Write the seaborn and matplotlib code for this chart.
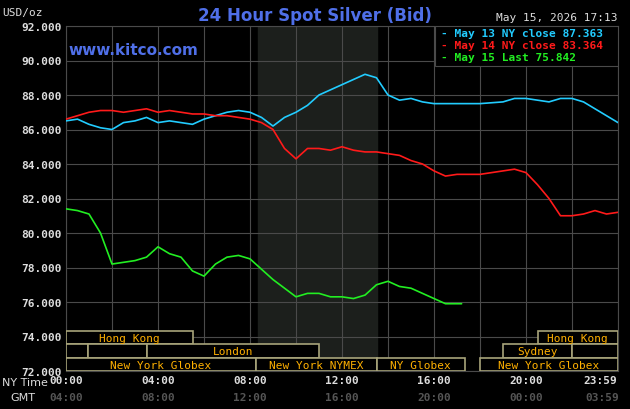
import numpy as np
import pandas as pd
import matplotlib
matplotlib.use("Agg")
import matplotlib.pyplot as plt
import seaborn as sns
from matplotlib.patches import Rectangle

# hours (NY time) and read-off prices
hours_blue = [0, 0.5, 1, 1.5, 2, 2.5, 3, 3.5, 4, 4.5, 5, 5.5, 6, 6.5, 7, 7.5, 8, 8.5, 9, 9.5, 10, 10.5, 11, 11.5, 12, 12.5, 13, 13.5, 14, 14.5, 15, 15.5, 16, 17, 18, 19, 19.5, 20, 20.5, 21, 21.5, 22, 22.5, 23, 23.5, 24]
may13 = [86500, 86600, 86300, 86100, 86000, 86400, 86500, 86700, 86400, 86500, 86400, 86300, 86600, 86800, 87000, 87100, 87000, 86700, 86200, 86700, 87000, 87400, 88000, 88300, 88600, 88900, 89200, 89000, 88000, 87700, 87800, 87600, 87500, 87500, 87500, 87600, 87800, 87800, 87700, 87600, 87800, 87800, 87600, 87200, 86800, 86400]

hours_red = [0, 0.5, 1, 1.5, 2, 2.5, 3, 3.5, 4, 4.5, 5, 5.5, 6, 6.5, 7, 7.5, 8, 8.5, 9, 9.5, 10, 10.5, 11, 11.5, 12, 12.5, 13, 13.5, 14, 14.5, 15, 15.5, 16, 16.5, 17, 18, 19, 19.5, 20, 20.5, 21, 21.5, 22, 22.5, 23, 23.5, 24]
may14 = [86600, 86800, 87000, 87100, 87100, 87000, 87100, 87200, 87000, 87100, 87000, 86900, 86900, 86800, 86800, 86700, 86600, 86400, 86000, 84900, 84300, 84900, 84900, 84800, 85000, 84800, 84700, 84700, 84600, 84500, 84200, 84000, 83600, 83300, 83400, 83400, 83600, 83700, 83500, 82800, 82000, 81000, 81000, 81100, 81300, 81100, 81200]

hours_green = [0, 0.5, 1, 1.5, 2, 2.5, 3, 3.5, 4, 4.5, 5, 5.5, 6, 6.5, 7, 7.5, 8, 8.5, 9, 9.5, 10, 10.5, 11, 11.5, 12, 12.5, 13, 13.5, 14, 14.5, 15, 15.5, 16, 16.5, 17, 17.2]
may15 = [81400, 81300, 81100, 80000, 78200, 78300, 78400, 78600, 79200, 78800, 78600, 77800, 77500, 78200, 78600, 78700, 78500, 77900, 77300, 76800, 76300, 76500, 76500, 76300, 76300, 76200, 76400, 77000, 77200, 76900, 76800, 76500, 76200, 75900, 75900, 75900]

ny_ticks = [0, 4, 8, 12, 16, 20, 23.983]
ny_labels = ["00:00", "04:00", "08:00", "12:00", "16:00", "20:00", "23:59"]
gmt_labels = ["04:00", "08:00", "12:00", "16:00", "20:00", "00:00", "03:59"]
y_ticks = list(range(72000, 92001, 2000))

# sessions: (row, start, end, label)
sessions = [
    (2, 0, 5.5, "Hong Kong"), (2, 20.5, 24, "Hong Kong"),
    (1, 0, 0.95, ""), (1, 0.95, 3.5, ""), (1, 3.5, 11, "London"), (1, 19, 22, "Sydney"), (1, 22, 24, ""),
    (0, 0, 8.25, "New York Globex"), (0, 8.25, 13.5, "New York NYMEX"), (0, 13.5, 17.35, "NY Globex"),
    (0, 18, 24, "New York Globex"),
]
row_bottoms = [72000, 72750, 73550]
row_h = [750, 800, 750]

df = pd.concat([
    pd.DataFrame({"hour": hours_blue, "price": may13, "series": "may13"}),
    pd.DataFrame({"hour": hours_red, "price": may14, "series": "may14"}),
    pd.DataFrame({"hour": hours_green, "price": may15, "series": "may15"}),
])

sns.set_style("dark")
plt.rcParams["font.family"] = ["DejaVu Sans Mono", "DejaVu Sans"]
fig = plt.figure(figsize=(6.3, 4.1), dpi=100, facecolor="black")
ax = fig.add_axes([66 / 630, 1 - 372 / 410, 552 / 630, 345 / 410])
ax.set_facecolor("black")

ax.axvspan(8.33, 13.5, color="#1c1f1c", zorder=0)
for h in range(0, 25, 2):
    ax.axvline(h, color="#4a4a4a", lw=0.8, zorder=1)
for v in y_ticks:
    ax.axhline(v, color="#4a4a4a", lw=0.8, zorder=1)

sns.lineplot(data=df, x="hour", y="price", hue="series",
             palette={"may13": "#22ccff", "may14": "#ff1a1a", "may15": "#22ee22"},
             legend=False, lw=1.2, ax=ax, zorder=3)

edge = "#a8a47a"
for row, s, e, lab in sessions:
    ax.add_patch(Rectangle((s, row_bottoms[row]), e - s, row_h[row], fill=True,
                           facecolor="black", edgecolor=edge, lw=1.2, zorder=4))
    if lab:
        ax.text((s + e) / 2, row_bottoms[row] + row_h[row] / 2, lab, color="#ffb000",
                ha="center", va="center", fontsize=8, zorder=5)

ax.set_xlim(0, 24)
ax.set_ylim(72000, 92000)
ax.set_xticks(ny_ticks)
ax.set_xticklabels(ny_labels, color="#dddddd", fontsize=8, fontweight="bold")
ax.get_xticklabels()[-1].set_ha("right")
ax.get_xticklabels()[-1].set_x(24)
ax.set_yticks(y_ticks)
ax.set_yticklabels([f"{v:,}".replace(",", ".") for v in y_ticks], color="#dddddd", fontsize=8, fontweight="bold")
ax.tick_params(length=0, pad=3)
ax.set_xlabel("")
ax.set_ylabel("")
for sp in ax.spines.values():
    sp.set_color("#4a4a4a")

for i, (t, lab) in enumerate(zip(ny_ticks, gmt_labels)):
    last = i == len(ny_ticks) - 1
    ax.text(24.05 if last else t, -0.075, lab, transform=ax.get_xaxis_transform(),
            ha="right" if last else "center", va="center",
            color="#555555", fontsize=8, fontweight="bold")
fig.text(2 / 630, 1 - 383 / 410, "NY Time", color="#dddddd", fontsize=8, va="center", family="DejaVu Sans")
fig.text(10 / 630, 1 - 398 / 410, "GMT", color="#dddddd", fontsize=8, va="center", family="DejaVu Sans")
fig.text(2 / 630, 1 - 13 / 410, "USD/oz", color="#dddddd", fontsize=8, va="center")

fig.text(0.5, 1 - 16 / 410, "24 Hour Spot Silver (Bid)", color="#4f6fe8", fontsize=12,
         fontweight="bold", ha="center", va="center", family="DejaVu Sans")
fig.text(617 / 630, 1 - 18 / 410, "May 15, 2026 17:13", color="#dddddd", fontsize=8, ha="right", va="center")
ax.text(0.005, 0.92, "www.kitco.com", transform=ax.transAxes, color="#4f6fe8", fontsize=11,
        fontweight="bold", family="DejaVu Sans")

# legend box
lx0 = (435 - 66) / 552
ax.add_patch(Rectangle((lx0, 1 - 40 / 345), 1 - lx0, 40 / 345, transform=ax.transAxes,
                       facecolor="black", edgecolor="#4a4a4a", lw=0.8, zorder=6))
for i, (txt, c) in enumerate([("May 13 NY close 87.363", "#22ccff"),
                              ("May 14 NY close 83.364", "#ff1a1a"),
                              ("May 15 Last 75.842", "#22ee22")]):
    ax.text(lx0 + 0.01, 1 - (7 + 12 * i) / 345, "- " + txt, transform=ax.transAxes, color=c,
            fontsize=8, va="center", fontweight="bold", zorder=7)

fig.savefig("out.png", dpi=100, facecolor="black")
